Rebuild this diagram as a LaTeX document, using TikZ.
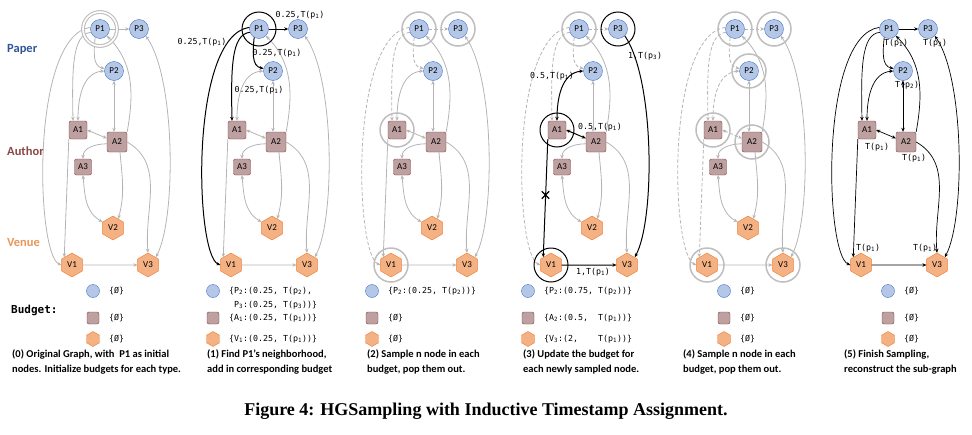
\documentclass[tikz,border=0pt]{standalone}
\usepackage{fontspec}
\setmainfont{Carlito}
\setmonofont{DejaVu Sans Mono}
\newfontfamily\capfont{Liberation Serif}
\usetikzlibrary{arrows.meta,shapes.geometric,shapes.misc}

\definecolor{paperline}{HTML}{4472C4}
\definecolor{paperfill}{HTML}{B4C7E7}
\definecolor{authorline}{HTML}{7B3F3F}
\definecolor{authorfill}{HTML}{BFA0A0}
\definecolor{venueline}{HTML}{ED7D31}
\definecolor{venuefill}{HTML}{F4B183}
\definecolor{papertext}{HTML}{2F5597}
\definecolor{authortext}{HTML}{8C4646}
\definecolor{venuetext}{HTML}{E8965A}
\definecolor{edgegray}{HTML}{B4B4B4}
\definecolor{ringgray}{HTML}{BEBEBE}

\newcommand{\tp}[1]{T(p\textsubscript{#1})}

\tikzset{
  paper/.style={circle, draw=paperline, fill=paperfill, minimum size=19pt, inner sep=0pt,
    font=\fontsize{9}{10}\selectfont},
  author/.style={rectangle, rounded corners=2pt, draw=authorline, fill=authorfill,
    minimum width=18pt, minimum height=18pt, inner sep=0pt, font=\fontsize{9}{10}\selectfont},
  venue/.style={regular polygon, regular polygon sides=6, shape border rotate=30,
    draw=venueline, fill=venuefill, minimum size=24pt, inner sep=0pt,
    font=\fontsize{9}{10}\selectfont},
  edge/.style={draw=edgegray, line width=0.8pt},
  sel/.style={draw=black, line width=1pt},
  old/.style={dash pattern=on 3.5pt off 2pt},
  ring/.style={circle, draw=ringgray, line width=1.5pt, minimum size=34pt, inner sep=0pt},
  bring/.style={ring, draw=black, line width=1pt},
  dring/.style={ring, line width=1.1pt, double, double distance=1.6pt},
  elabel/.style={font=\fontsize{8.3}{9}\ttfamily, inner sep=0pt},
  btext/.style={font=\fontsize{8.3}{9}\ttfamily, anchor=west, inner sep=0pt},
  captext/.style={font=\fontsize{10.5}{15}\selectfont\bfseries, align=left, anchor=north west, inner sep=0pt},
  typetext/.style={font=\fontsize{12.5}{14}\selectfont\bfseries, anchor=west, inner sep=0pt},
  % one style per connector, set again in a panel
  eP1P3/.style={}, eP1P2/.style={}, eP1A1/.style={}, eP1V1/.style={},
  eP2A1/.style={}, eP2A2/.style={}, eA2P1/.style={}, eA1A2/.style={},
  eA2V3/.style={}, eA1V1/.style={}, eV1V3/.style={}, eP3V3/.style={},
}

\newcommand{\graphnodes}[1]{%
  \node[paper] (#1P1) at (100,-29) {P1};
  \node[paper] (#1P3) at (139,-29) {P3};
  \node[paper] (#1P2) at (114,-71) {P2};
  \node[author] (#1A1) at (78,-130) {A1};
  \node[author, minimum width=20pt, minimum height=20pt] (#1A2) at (117,-142) {A2};
  \node[venue] (#1V1) at (72,-265) {V1};
  \node[venue] (#1V3) at (148,-265) {V3};
}
\newcommand{\extranodes}[1]{%
  \node[author, minimum width=17pt, minimum height=16pt] (#1A3) at (83,-167) {A3};
  \node[venue] (#1V2) at (113,-228) {V2};
}
\newcommand{\graphedges}[1]{%
  \draw[edge,->,eP1P3] (#1P1) -- (#1P3);
  \draw[edge,->,eP1P2] (#1P1.240) to[out=-95,in=170] (#1P2.165);
  \draw[edge,->,eP1A1] (#1P1.200) .. controls (72,-34) and (72,-70) .. ([xshift=-5pt]#1A1.north);
  \draw[edge,->,eP1V1] (#1P1.170) .. controls (30,-36) and (36,-255) .. (#1V1.west);
  \draw[edge,<->,eP2A1] (#1P2.west) to[out=185,in=90] (#1A1.north);
  \draw[edge,<->,eP2A2] (#1P2.south) -- (#1P2.south |- #1A2.north);
  \draw[edge,->,eA2P1] (#1A2.north east) to[out=80,in=-45] (#1P1.south east);
  \draw[edge,<->,eA1A2] (#1A1.east) -- (#1A2.160);
  \draw[edge,->,eA2V3] (#1A2.east) to[out=-30,in=95] (#1V3.north);
  \draw[edge,->,eA1V1] (#1A1.south west) -- (#1V1.north west);
  \draw[edge,->,eV1V3] (#1V1) -- (#1V3);
  \draw[edge,<->,eP3V3] (#1P3.south east) .. controls (176,-80) and (176,-220) .. (#1V3.north east);
}
\newcommand{\extraedges}[1]{%
  \draw[edge,->] (#1A2.190) to[out=180,in=90] (#1A3.north);
  \draw[edge,<->] (#1A3.south) to[out=-85,in=150] (#1V2.150);
  \draw[edge,->] ([xshift=3pt]#1A2.south) to[out=-85,in=75] (#1V2.60);
}
\newcommand{\budget}[5]{%
  \node[paper, minimum size=13pt] (#1bp) at (#2,-291) {};
  \node[author, minimum width=12pt, minimum height=12pt] (#1ba) at (#2,-318) {};
  \node[venue, minimum size=15pt] (#1bv) at (#2,-339) {};
  \node[btext] (#1tp) at (#2+16,-291) {#3};
  \node[btext] (#1ta) at (#2+16,-318) {#4};
  \node[btext] (#1tv) at (#2+16,-339) {#5};
}

\begin{document}
\begin{tikzpicture}[x=1pt, y=1pt, >={Stealth[length=4pt,width=3.5pt]}]
\useasboundingbox (0,0) rectangle (972,-434);

% types
\node[typetext, text=papertext] (tpaper) at (7,-49) {Paper};
\node[typetext, text=authortext] (tauthor) at (7,-151) {Author};
\node[typetext, text=venuetext] (tvenue) at (7,-242) {Venue};
\node[font=\fontsize{11}{12}\ttfamily\bfseries, anchor=west, inner sep=0pt] (tbudget) at (11,-310) {Budget:};

% (0) original graph
\begin{scope}
  \graphnodes{a}\extranodes{a}
  \graphedges{a}\extraedges{a}
  \node[dring] (aR1) at (aP1) {};
\end{scope}

% (1) neighbours of P1
\begin{scope}[xshift=159, eP1P3/.style={sel}, eP1P2/.style={sel}, eP1A1/.style={sel}, eP1V1/.style={sel}]
  \graphnodes{b}\extranodes{b}
  \graphedges{b}\extraedges{b}
  \node[bring] (bR1) at (bP1) {};
  \node[elabel] (bl1) at (141,-15) {0.25,\tp{1}};
  \node[elabel] (bl2) at (43,-42) {0.25,\tp{1}};
  \node[elabel] (bl3) at (118,-53) {0.25,\tp{1}};
  \node[elabel] (bl4) at (100,-90) {0.25,\tp{1}};
\end{scope}

% (2) sample
\begin{scope}[xshift=319, eP1P3/.style={old}, eP1P2/.style={old}, eP1A1/.style={old}, eP1V1/.style={old}]
  \graphnodes{c}\extranodes{c}
  \graphedges{c}\extraedges{c}
  \foreach \n in {P1,P3,A1,V1} \node[ring] (cR\n) at (c\n) {};
\end{scope}

% (3) update budget
\begin{scope}[xshift=479, eP1P3/.style={old}, eP1P2/.style={old}, eP1A1/.style={old}, eP1V1/.style={old},
    eP2A1/.style={sel}, eA1A2/.style={sel}, eA1V1/.style={sel}, eV1V3/.style={sel}, eP3V3/.style={sel,->}]
  \graphnodes{d}\extranodes{d}
  \graphedges{d}\extraedges{d}
  \node[ring] (dR1) at (dP1) {};
  \foreach \n in {P3,A1,V1} \node[bring] (dR\n) at (d\n) {};
  \node[elabel] (dl1) at (73,-76) {0.5,\tp{1}};
  \node[elabel] (dl2) at (121,-127) {0.5,\tp{1}};
  \node[elabel] (dl3) at (166,-56) {1,\tp{3}};
  \node[elabel] (dl4) at (114,-272) {1,\tp{1}};
  \node[cross out, draw=black, line width=1.4pt, minimum size=6pt, inner sep=0pt] (dcut) at (66.5,-195) {};
\end{scope}

% (4) sample again
\begin{scope}[xshift=635, eP1P3/.style={old}, eP1P2/.style={old}, eP1A1/.style={old}, eP1V1/.style={old},
    eP2A1/.style={old}, eA1A2/.style={old}, eA1V1/.style={old}]
  \graphnodes{e}\extranodes{e}
  \graphedges{e}\extraedges{e}
  \foreach \n in {P1,P3,P2,A1,A2,V1,V3} \node[ring] (eR\n) at (e\n) {};
\end{scope}

% (5) sub-graph
\begin{scope}[xshift=789, edge/.style={draw=black, line width=0.7pt}]
  \graphnodes{f}
  \graphedges{f}
  \node[elabel] (fl1) at (107,-43) {\tp{1}};
  \node[elabel] (fl2) at (146,-43) {\tp{3}};
  \node[elabel] (fl3) at (118,-85) {\tp{2}};
  \node[elabel] (fl4) at (88,-147) {\tp{1}};
  \node[elabel] (fl5) at (125,-158) {\tp{1}};
  \node[elabel] (fl6) at (79,-248) {\tp{1}};
  \node[elabel] (fl7) at (136,-248) {\tp{1}};
\end{scope}

% budgets
\budget{a}{93}{\{Ø\}}{\{Ø\}}{\{Ø\}}
\budget{b}{213}{\{P\textsubscript{2}:(0.25, \tp{2},}{\{A\textsubscript{1}:(0.25, \tp{1})\}}{\{V\textsubscript{1}:(0.25, \tp{1})\}}
\node[btext] (btp2) at (229,-305) {\phantom{\{}P\textsubscript{3}:(0.25, \tp{3})\}};
\budget{c}{372}{\{P\textsubscript{2}:(0.25, \tp{2})\}}{\{Ø\}}{\{Ø\}}
\budget{d}{528}{\{P\textsubscript{2}:(0.75, \tp{2})\}}{\{A\textsubscript{2}:(0.5,\ \ \tp{1})\}}{\{V\textsubscript{3}:(2,\phantom{.5}\ \ \tp{1})\}}
\budget{e}{724}{\{Ø\}}{\{Ø\}}{\{Ø\}}
\budget{f}{888}{\{Ø\}}{\{Ø\}}{\{Ø\}}

% captions
\node[captext] (cap0) at (12,-350) {(0) Original Graph, with\ \ P1 as initial\\nodes. Initialize budgets for each type.};
\node[captext] (cap1) at (207,-350) {(1) Find P1’s neighborhood,\\add in corresponding budget};
\node[captext] (cap2) at (367,-350) {(2) Sample n node in each\\budget, pop them out.};
\node[captext] (cap3) at (523,-350) {(3) Update the budget for\\each newly sampled node.};
\node[captext] (cap4) at (683,-350) {(4) Sample n node in each\\budget, pop them out.};
\node[captext] (cap5) at (844,-350) {(5) Finish Sampling,\\reconstruct the sub-graph};

\node[font=\fontsize{18}{20}\capfont\bfseries] (figcap) at (486,-411) {Figure 4: HGSampling with Inductive Timestamp Assignment.};
\end{tikzpicture}
\end{document}
